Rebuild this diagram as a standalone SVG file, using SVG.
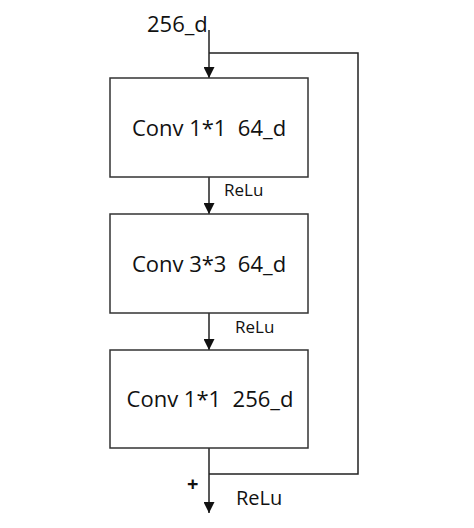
<svg xmlns="http://www.w3.org/2000/svg" width="474" height="528" viewBox="0 0 474 528">
<style>
.box{fill:#fff;stroke:#333;stroke-width:1.5}
.ln{fill:none;stroke:#222;stroke-width:1.5}
.t{font-family:"Open Sans","Liberation Sans",sans-serif;fill:#111}
.big{font-size:22px}
.sm{font-size:17px}
</style>
<defs>
<marker id="ah" viewBox="0 0 10 10" refX="10" refY="5" markerWidth="11" markerHeight="11" markerUnits="userSpaceOnUse" orient="auto">
<path d="M0,0 L10,5 L0,10 z" fill="#111"/>
</marker>
</defs>
<rect width="474" height="528" fill="#fff"/>
<g id="connectors">
<line class="ln" x1="209" y1="30" x2="209" y2="78" marker-end="url(#ah)"/>
<polyline class="ln" points="209,53 358,53 358,474 209,474"/>
<line class="ln" x1="209" y1="177" x2="209" y2="214" marker-end="url(#ah)"/>
<line class="ln" x1="209" y1="313" x2="209" y2="350" marker-end="url(#ah)"/>
<line class="ln" x1="209" y1="448" x2="209" y2="513" marker-end="url(#ah)"/>
<text class="t sm" x="224" y="196">ReLu</text>
<text class="t sm" x="235" y="333">ReLu</text>
<text class="t" style="font-size:20px" x="236" y="505">ReLu</text>
<text class="t" style="font-size:20px;font-weight:bold" x="187" y="491">+</text>
</g>
<g id="input">
<text class="t big" x="147" y="32">256_d</text>
</g>
<g id="conv1">
<rect class="box" x="110" y="78" width="198" height="99"/>
<text class="t big" x="209" y="136" text-anchor="middle" xml:space="preserve">Conv 1*1  64_d</text>
</g>
<g id="conv2">
<rect class="box" x="110" y="214" width="198" height="99"/>
<text class="t big" x="209" y="272" text-anchor="middle" xml:space="preserve">Conv 3*3  64_d</text>
</g>
<g id="conv3">
<rect class="box" x="110" y="350" width="198" height="98"/>
<text class="t big" x="210" y="407" text-anchor="middle" xml:space="preserve">Conv 1*1  256_d</text>
</g>
</svg>
